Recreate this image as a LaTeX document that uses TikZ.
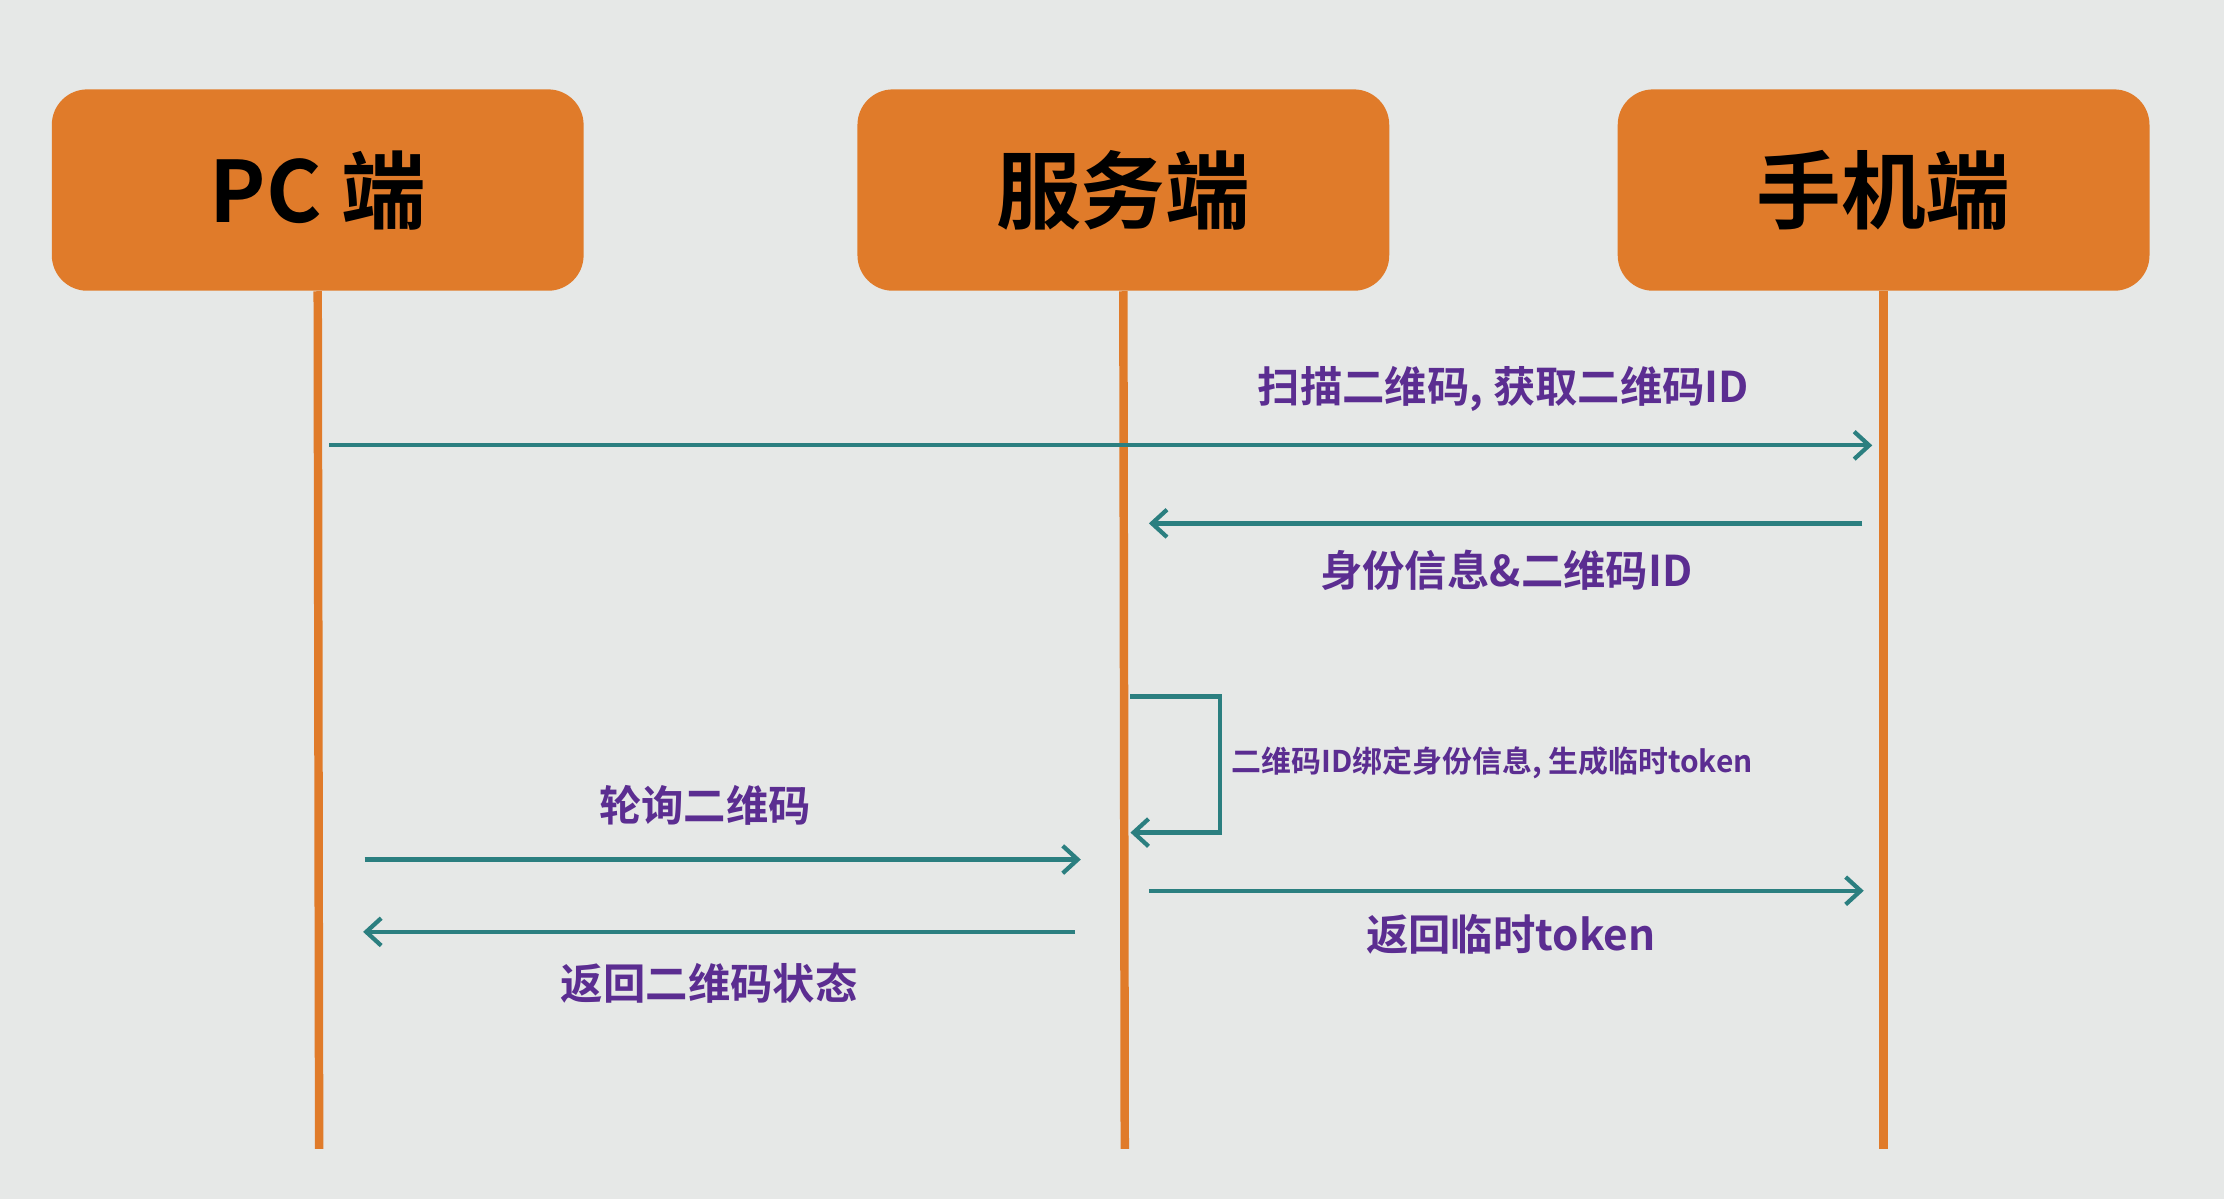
\documentclass[tikz,border=0pt]{standalone}
\usepackage{fontspec}
\setmainfont{Noto Sans CJK SC}[BoldFont={* Bold}]
\usetikzlibrary{arrows.meta}
\definecolor{bg}{HTML}{E6E8E7}
\definecolor{org}{HTML}{E07B2A}
\definecolor{teal}{HTML}{2B7F80}
\definecolor{purp}{HTML}{5B2D91}
\begin{document}
\begin{tikzpicture}[x=0.02cm,y=-0.02cm,
  actor/.style={fill=org,rounded corners=0.5cm,minimum width=7.5cm,minimum height=2.84cm,font=\bfseries\fontsize{34}{40}\selectfont,text=black},
  life/.style={org,line width=3.4pt},
  msg/.style={teal,line width=1.7pt,-{Straight Barb[length=6pt,width=11pt]}},
  lbl/.style={text=purp,font=\bfseries\fontsize{17}{20}\selectfont},
  slbl/.style={text=purp,font=\bfseries\fontsize{12}{14}\selectfont}]
\fill[bg] (0,0) rectangle (1568,845);
\node[actor] (pc) at (224,134) {PC 端};
\node[actor] (sv) at (792,134) {服务端};
\node[actor] (ph) at (1328,134) {手机端};
\coordinate (pcE) at (225,810);
\coordinate (svE) at (793,810);
\coordinate (phE) at (1328,810);
\draw[life] (pc.south) -- (pcE);
\draw[life] (sv.south) -- (svE);
\draw[life] (ph.south) -- (phE);
\coordinate (a1) at (232,314); \coordinate (b1) at (1320,314);
\draw[msg] (a1) -- (b1);
\node[lbl] (l1) at (1060,274) {扫描二维码, 获取二维码ID};
\coordinate (a2) at (1313,369); \coordinate (b2) at (810,369);
\draw[msg] (a2) -- (b2);
\node[lbl] (l2) at (1062,402) {身份信息\&二维码ID};
\coordinate (a3) at (797,491); \coordinate (b3) at (797,587);
\draw[msg] (a3) -- (860,491) -- (860,587) -- (b3);
\node[slbl] (l3) at (1052,538) {二维码ID绑定身份信息, 生成临时token};
\coordinate (a4) at (257,606); \coordinate (b4) at (762,606);
\draw[msg] (a4) -- (b4);
\node[lbl] (l4) at (497,568) {轮询二维码};
\coordinate (a5) at (758,657); \coordinate (b5) at (256,657);
\draw[msg] (a5) -- (b5);
\node[lbl] (l5) at (500,693) {返回二维码状态};
\coordinate (a6) at (810,628); \coordinate (b6) at (1314,628);
\draw[msg] (a6) -- (b6);
\node[lbl] (l6) at (1065,659) {返回临时token};
\end{tikzpicture}
\end{document}
